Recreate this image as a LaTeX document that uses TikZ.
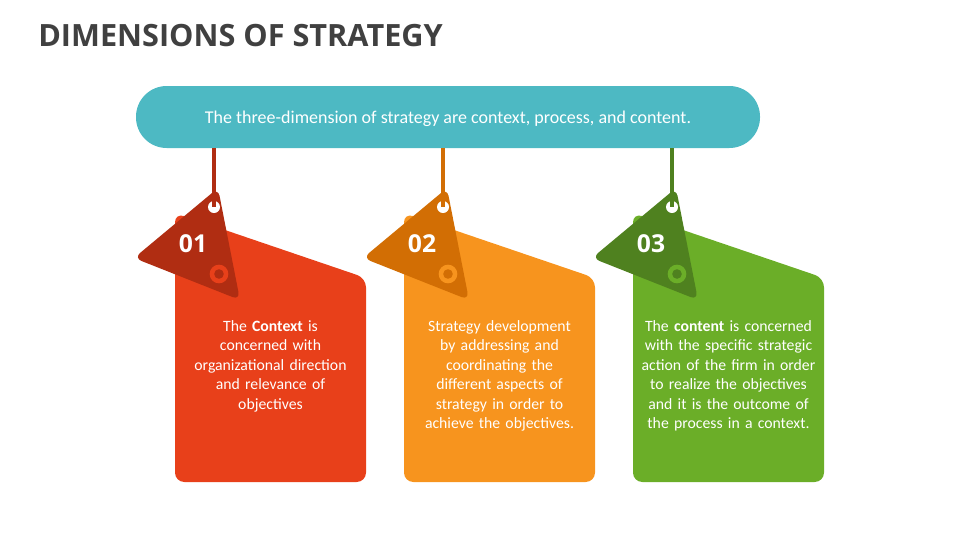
\documentclass[tikz,border=0pt]{standalone}
\usepackage{fontspec}
\setmainfont{Carlito}
\newfontfamily\headfont{Open Sans}
\usetikzlibrary{positioning}
\definecolor{TitleGrey}{HTML}{404040}
\definecolor{StratTeal}{HTML}{4DB9C3}
\definecolor{CardRed}{HTML}{E8401A}
\definecolor{TagRed}{HTML}{B02D12}
\definecolor{CardOrange}{HTML}{F7941E}
\definecolor{TagOrange}{HTML}{D26E04}
\definecolor{CardGreen}{HTML}{6BAE28}
\definecolor{TagGreen}{HTML}{4F811F}
\tikzset{
  cardtext/.style={anchor=north,align=center,text=white,inner sep=0pt,
    text width=140pt,font=\fontsize{11.8}{14.6}\selectfont},
  tagnum/.style={text=white,inner sep=0pt,font=\headfont\bfseries\fontsize{18.5}{20}\selectfont}
}

\begin{document}
\begin{tikzpicture}[x=0.75pt,y=-0.75pt]
  \useasboundingbox (0,0) rectangle (960,540);
  \node[anchor=base west,inner sep=0pt,text=TitleGrey,
        font=\headfont\bfseries\fontsize{23}{28}\selectfont] (title) at (38,46) {DIMENSIONS OF STRATEGY};
  \node[fill=StratTeal,rounded corners=23pt,minimum width=468pt,minimum height=46.5pt,text depth=0pt,
        text=white,font=\fontsize{13.5}{16}\selectfont] (banner) at (448,117)
        {The three-dimension of strategy are context, process, and content.};
  \foreach \x/\num/\card/\tag in {175/01/CardRed/TagRed,404/02/CardOrange/TagOrange,633/03/CardGreen/TagGreen}{
    \fill[\card,rounded corners=7pt] (\x,213) -- (\x+191,278) -- (\x+191,482) -- (\x,482) -- cycle;
    \fill[\tag,rounded corners=6pt] (\x+43,188) -- (\x-41,258) -- (\x+65,300) -- cycle;
    \coordinate (hole\num) at (\x+39,207);
    \fill[white] (hole\num) circle (4.5pt);
    \draw[\tag,line width=3pt] (banner.south -| hole\num) -- (hole\num);
    \fill[\card] (\x+44,274) circle (7pt);
    \fill[\tag] (\x+44,274) circle (3.6pt);
    \node[tagnum] (num\num) at (\x+18,244) {\num};
  }
  \node[cardtext] (ctx) at (270.5,320) {The \textbf{Context} is\\concerned with\\organizational direction\\and relevance of\\objectives};
  \node[cardtext] (proc) at (499.5,320) {Strategy development\\by addressing and\\coordinating the\\different aspects of\\strategy in order to\\achieve the objectives.};
  \node[cardtext] (cont) at (728.5,320) {The \textbf{content} is concerned\\with the specific strategic\\action of the firm in order\\to realize the objectives\\and it is the outcome of\\the process in a context.};
\end{tikzpicture}
\end{document}
